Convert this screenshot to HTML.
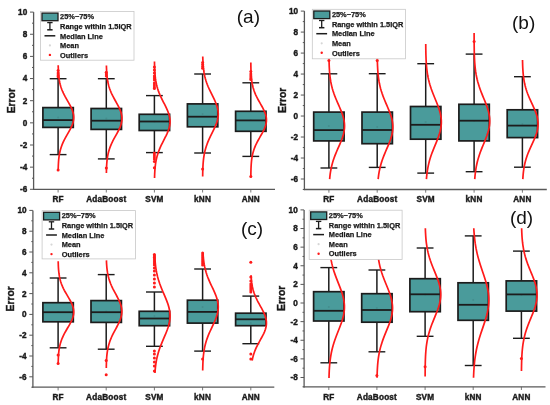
<!DOCTYPE html>
<html><head><meta charset="utf-8"><style>
html,body{margin:0;padding:0;background:#fff;width:550px;height:405px;overflow:hidden}
svg{display:block;will-change:transform}
text{font-family:"Liberation Sans",sans-serif;fill:#1a1a1a}
.tk,.xl,.yl{stroke:#1a1a1a;stroke-width:0.4px}
.lg{stroke:#1a1a1a;stroke-width:0.25px}
.tk{font-size:8.2px;font-weight:bold}
.xl{font-size:8.2px;font-weight:bold;letter-spacing:0.2px}
.yl{font-size:10.3px;font-weight:bold}
.lg{font-size:7.4px;font-weight:bold}
.tag{font-size:19px;fill:#111}
</style></head><body>
<svg width="550" height="405" viewBox="0 0 550 405">
<rect width="550" height="405" fill="#fff"/>
<line x1="58.1" y1="78.7" x2="58.1" y2="107.4" stroke="#1c1c1c" stroke-width="1.5"/>
<line x1="58.1" y1="127.6" x2="58.1" y2="154.6" stroke="#1c1c1c" stroke-width="1.5"/>
<line x1="49.7" y1="78.7" x2="66.5" y2="78.7" stroke="#1c1c1c" stroke-width="1.4"/>
<line x1="49.7" y1="154.6" x2="66.5" y2="154.6" stroke="#1c1c1c" stroke-width="1.4"/>
<rect x="42.9" y="107.6" width="30.4" height="19.8" fill="#4a9b9b" stroke="#1c1c1c" stroke-width="1.7"/>
<circle cx="58.1" cy="117.5" r="1" fill="#468e8e"/>
<line x1="42.9" y1="120.1" x2="73.3" y2="120.1" stroke="#1c1c1c" stroke-width="1.8"/>
<line x1="106.3" y1="78.7" x2="106.3" y2="108.3" stroke="#1c1c1c" stroke-width="1.5"/>
<line x1="106.3" y1="129.6" x2="106.3" y2="158.9" stroke="#1c1c1c" stroke-width="1.5"/>
<line x1="97.9" y1="78.7" x2="114.7" y2="78.7" stroke="#1c1c1c" stroke-width="1.4"/>
<line x1="97.9" y1="158.9" x2="114.7" y2="158.9" stroke="#1c1c1c" stroke-width="1.4"/>
<rect x="91.1" y="108.5" width="30.4" height="20.9" fill="#4a9b9b" stroke="#1c1c1c" stroke-width="1.7"/>
<circle cx="106.3" cy="118.5" r="1" fill="#468e8e"/>
<line x1="91.1" y1="120.7" x2="121.5" y2="120.7" stroke="#1c1c1c" stroke-width="1.8"/>
<line x1="154.4" y1="95.6" x2="154.4" y2="114.1" stroke="#1c1c1c" stroke-width="1.5"/>
<line x1="154.4" y1="130.7" x2="154.4" y2="152.6" stroke="#1c1c1c" stroke-width="1.5"/>
<line x1="146" y1="95.6" x2="162.8" y2="95.6" stroke="#1c1c1c" stroke-width="1.4"/>
<line x1="146" y1="152.6" x2="162.8" y2="152.6" stroke="#1c1c1c" stroke-width="1.4"/>
<rect x="139.2" y="114.3" width="30.4" height="16.2" fill="#4a9b9b" stroke="#1c1c1c" stroke-width="1.7"/>
<circle cx="154.4" cy="121.5" r="1" fill="#468e8e"/>
<line x1="139.2" y1="121.5" x2="169.6" y2="121.5" stroke="#1c1c1c" stroke-width="1.8"/>
<line x1="202.6" y1="74" x2="202.6" y2="103.7" stroke="#1c1c1c" stroke-width="1.5"/>
<line x1="202.6" y1="127" x2="202.6" y2="153" stroke="#1c1c1c" stroke-width="1.5"/>
<line x1="194.2" y1="74" x2="211" y2="74" stroke="#1c1c1c" stroke-width="1.4"/>
<line x1="194.2" y1="153" x2="211" y2="153" stroke="#1c1c1c" stroke-width="1.4"/>
<rect x="187.4" y="103.9" width="30.4" height="22.9" fill="#4a9b9b" stroke="#1c1c1c" stroke-width="1.7"/>
<circle cx="202.6" cy="114" r="1" fill="#468e8e"/>
<line x1="187.4" y1="116.7" x2="217.8" y2="116.7" stroke="#1c1c1c" stroke-width="1.8"/>
<line x1="250.8" y1="82.8" x2="250.8" y2="111.1" stroke="#1c1c1c" stroke-width="1.5"/>
<line x1="250.8" y1="131.5" x2="250.8" y2="156.4" stroke="#1c1c1c" stroke-width="1.5"/>
<line x1="242.4" y1="82.8" x2="259.2" y2="82.8" stroke="#1c1c1c" stroke-width="1.4"/>
<line x1="242.4" y1="156.4" x2="259.2" y2="156.4" stroke="#1c1c1c" stroke-width="1.4"/>
<rect x="235.6" y="111.3" width="30.4" height="20" fill="#4a9b9b" stroke="#1c1c1c" stroke-width="1.7"/>
<circle cx="250.8" cy="120" r="1" fill="#468e8e"/>
<line x1="235.6" y1="120.4" x2="266" y2="120.4" stroke="#1c1c1c" stroke-width="1.8"/>
<polyline points="58.2,65.2 58.24,66.95 58.3,68.7 58.37,70.45 58.46,72.2 58.58,73.95 58.73,75.7 58.92,77.45 59.16,79.2 59.45,80.95 59.79,82.7 60.21,84.45 60.69,86.2 61.25,87.95 61.89,89.7 62.6,91.45 63.39,93.2 64.25,94.95 65.17,96.7 66.14,98.45 67.13,100.2 68.14,101.95 69.13,103.7 70.09,105.45 70.98,107.2 71.78,108.95 72.48,110.7 73.03,112.45 73.44,114.2 73.68,115.95 73.75,117.7 73.64,119.45 73.36,121.2 72.92,122.95 72.33,124.7 71.61,126.45 70.78,128.2 69.87,129.95 68.91,131.7 67.91,133.45 66.9,135.2 65.91,136.95 64.96,138.7 64.05,140.45 63.2,142.2 62.43,143.95 61.73,145.7 61.11,147.45 60.57,149.2 60.1,150.95 59.71,152.7 59.38,154.45 59.1,156.2 58.88,157.95 58.69,159.7 58.55,161.45 58.44,163.2 58.35,164.95 58.28,166.7 58.23,168.45 58.2,170.2" fill="none" stroke="#ff1a1a" stroke-width="1.7"/>
<circle cx="58.1" cy="70.5" r="1.5" fill="#ff1a1a"/>
<circle cx="58.1" cy="73" r="1.5" fill="#ff1a1a"/>
<circle cx="58.1" cy="75" r="1.5" fill="#ff1a1a"/>
<circle cx="58.1" cy="76.8" r="1.5" fill="#ff1a1a"/>
<circle cx="58.1" cy="170" r="1.5" fill="#ff1a1a"/>
<polyline points="106.42,65.4 106.46,67.19 106.53,68.99 106.6,70.78 106.71,72.57 106.84,74.37 107,76.16 107.21,77.95 107.46,79.75 107.77,81.54 108.14,83.33 108.58,85.13 109.09,86.92 109.67,88.71 110.33,90.51 111.07,92.3 111.88,94.09 112.76,95.89 113.69,97.68 114.67,99.47 115.66,101.27 116.66,103.06 117.64,104.85 118.57,106.65 119.44,108.44 120.2,110.23 120.86,112.03 121.37,113.82 121.73,115.61 121.92,117.41 121.94,119.2 121.78,120.99 121.46,122.79 120.98,124.58 120.36,126.37 119.61,128.17 118.77,129.96 117.85,131.75 116.88,133.55 115.88,135.34 114.88,137.13 113.9,138.93 112.96,140.72 112.07,142.51 111.24,144.31 110.49,146.1 109.81,147.89 109.21,149.69 108.68,151.48 108.23,153.27 107.85,155.07 107.53,156.86 107.26,158.65 107.05,160.45 106.87,162.24 106.73,164.03 106.62,165.83 106.54,167.62 106.48,169.41 106.43,171.21 106.39,173" fill="none" stroke="#ff1a1a" stroke-width="1.7"/>
<circle cx="106.3" cy="72.3" r="1.5" fill="#ff1a1a"/>
<circle cx="106.3" cy="74" r="1.5" fill="#ff1a1a"/>
<circle cx="106.3" cy="75.9" r="1.5" fill="#ff1a1a"/>
<circle cx="106.3" cy="168" r="1.5" fill="#ff1a1a"/>
<polyline points="154.48,61.5 154.51,63.44 154.56,65.38 154.61,67.33 154.69,69.27 154.79,71.21 154.91,73.15 155.07,75.09 155.27,77.03 155.51,78.97 155.81,80.92 156.17,82.86 156.59,84.8 157.08,86.74 157.65,88.68 158.29,90.62 159.01,92.57 159.8,94.51 160.66,96.45 161.57,98.39 162.53,100.33 163.52,102.28 164.52,104.22 165.5,106.16 166.44,108.1 167.32,110.04 168.11,111.98 168.79,113.92 169.34,115.87 169.74,117.81 169.98,119.75 170.05,121.69 169.95,123.63 169.67,125.58 169.24,127.52 168.67,129.46 167.96,131.4 167.15,133.34 166.26,135.28 165.3,137.22 164.32,139.17 163.32,141.11 162.34,143.05 161.39,144.99 160.48,146.93 159.64,148.88 158.86,150.82 158.15,152.76 157.53,154.7 156.98,156.64 156.5,158.58 156.09,160.53 155.75,162.47 155.46,164.41 155.23,166.35 155.04,168.29 154.89,170.23 154.77,172.18 154.67,174.12 154.6,176.06 154.55,178" fill="none" stroke="#ff1a1a" stroke-width="1.7"/>
<circle cx="154.4" cy="67" r="1.5" fill="#ff1a1a"/>
<circle cx="154.4" cy="70" r="1.5" fill="#ff1a1a"/>
<circle cx="154.4" cy="73" r="1.5" fill="#ff1a1a"/>
<circle cx="154.4" cy="76" r="1.5" fill="#ff1a1a"/>
<circle cx="154.4" cy="78" r="1.5" fill="#ff1a1a"/>
<circle cx="154.4" cy="80" r="1.5" fill="#ff1a1a"/>
<circle cx="154.4" cy="83" r="1.5" fill="#ff1a1a"/>
<circle cx="154.4" cy="85" r="1.5" fill="#ff1a1a"/>
<circle cx="154.4" cy="87" r="1.5" fill="#ff1a1a"/>
<circle cx="154.4" cy="88.6" r="1.5" fill="#ff1a1a"/>
<circle cx="154.4" cy="153" r="1.5" fill="#ff1a1a"/>
<circle cx="154.4" cy="155" r="1.5" fill="#ff1a1a"/>
<circle cx="154.4" cy="157" r="1.5" fill="#ff1a1a"/>
<circle cx="154.4" cy="159" r="1.5" fill="#ff1a1a"/>
<circle cx="154.4" cy="161.6" r="1.5" fill="#ff1a1a"/>
<circle cx="154.4" cy="167.7" r="1.5" fill="#ff1a1a"/>
<polyline points="202.76,56.5 202.82,58.5 202.9,60.5 203,62.5 203.13,64.49 203.29,66.49 203.49,68.49 203.74,70.49 204.04,72.49 204.4,74.48 204.83,76.48 205.33,78.48 205.9,80.48 206.55,82.48 207.28,84.48 208.08,86.47 208.95,88.47 209.87,90.47 210.84,92.47 211.83,94.47 212.82,96.47 213.8,98.47 214.74,100.46 215.61,102.46 216.4,104.46 217.06,106.46 217.6,108.46 217.98,110.46 218.2,112.45 218.25,114.45 218.12,116.45 217.83,118.45 217.37,120.45 216.78,122.45 216.06,124.44 215.23,126.44 214.32,128.44 213.36,130.44 212.37,132.44 211.38,134.44 210.39,136.43 209.45,138.43 208.55,140.43 207.71,142.43 206.94,144.43 206.25,146.43 205.63,148.42 205.09,150.42 204.63,152.42 204.23,154.42 203.9,156.42 203.62,158.42 203.39,160.41 203.21,162.41 203.06,164.41 202.95,166.41 202.86,168.41 202.79,170.41 202.74,172.4 202.7,174.4 202.67,176.4" fill="none" stroke="#ff1a1a" stroke-width="1.7"/>
<circle cx="202.6" cy="62.5" r="1.5" fill="#ff1a1a"/>
<circle cx="202.6" cy="64.5" r="1.5" fill="#ff1a1a"/>
<circle cx="202.6" cy="66.5" r="1.5" fill="#ff1a1a"/>
<circle cx="202.6" cy="68.2" r="1.5" fill="#ff1a1a"/>
<circle cx="202.6" cy="169.1" r="1.5" fill="#ff1a1a"/>
<polyline points="250.84,62.5 250.85,64.4 250.88,66.3 250.91,68.2 250.96,70.11 251.03,72.01 251.12,73.91 251.23,75.81 251.39,77.71 251.58,79.61 251.83,81.52 252.14,83.42 252.52,85.32 252.98,87.22 253.52,89.12 254.15,91.03 254.87,92.93 255.69,94.83 256.59,96.73 257.57,98.63 258.6,100.53 259.68,102.44 260.77,104.34 261.85,106.24 262.89,108.14 263.84,110.04 264.69,111.94 265.4,113.84 265.94,115.75 266.29,117.65 266.44,119.55 266.39,121.45 266.13,123.35 265.68,125.25 265.05,127.16 264.26,129.06 263.35,130.96 262.35,132.86 261.29,134.76 260.2,136.66 259.11,138.57 258.05,140.47 257.04,142.37 256.1,144.27 255.25,146.17 254.48,148.07 253.8,149.98 253.22,151.88 252.72,153.78 252.31,155.68 251.97,157.58 251.69,159.48 251.47,161.39 251.3,163.29 251.17,165.19 251.07,167.09 250.99,168.99 250.93,170.89 250.89,172.8 250.86,174.7 250.84,176.6" fill="none" stroke="#ff1a1a" stroke-width="1.7"/>
<circle cx="250.8" cy="71.6" r="1.5" fill="#ff1a1a"/>
<circle cx="250.8" cy="74" r="1.5" fill="#ff1a1a"/>
<circle cx="250.8" cy="76" r="1.5" fill="#ff1a1a"/>
<circle cx="250.8" cy="78" r="1.5" fill="#ff1a1a"/>
<circle cx="250.8" cy="79.5" r="1.5" fill="#ff1a1a"/>
<circle cx="250.8" cy="176.4" r="1.5" fill="#ff1a1a"/>
<line x1="33.6" y1="12.1" x2="33.6" y2="189.9" stroke="#585858" stroke-width="1.3"/>
<line x1="33" y1="189.3" x2="275" y2="189.3" stroke="#585858" stroke-width="1.3"/>
<line x1="30" y1="189.3" x2="33.6" y2="189.3" stroke="#585858" stroke-width="1"/>
<line x1="32" y1="178.23" x2="33.6" y2="178.23" stroke="#585858" stroke-width="1"/>
<line x1="30" y1="167.15" x2="33.6" y2="167.15" stroke="#585858" stroke-width="1"/>
<line x1="32" y1="156.08" x2="33.6" y2="156.08" stroke="#585858" stroke-width="1"/>
<line x1="30" y1="145" x2="33.6" y2="145" stroke="#585858" stroke-width="1"/>
<line x1="32" y1="133.93" x2="33.6" y2="133.93" stroke="#585858" stroke-width="1"/>
<line x1="30" y1="122.85" x2="33.6" y2="122.85" stroke="#585858" stroke-width="1"/>
<line x1="32" y1="111.78" x2="33.6" y2="111.78" stroke="#585858" stroke-width="1"/>
<line x1="30" y1="100.7" x2="33.6" y2="100.7" stroke="#585858" stroke-width="1"/>
<line x1="32" y1="89.62" x2="33.6" y2="89.62" stroke="#585858" stroke-width="1"/>
<line x1="30" y1="78.55" x2="33.6" y2="78.55" stroke="#585858" stroke-width="1"/>
<line x1="32" y1="67.48" x2="33.6" y2="67.48" stroke="#585858" stroke-width="1"/>
<line x1="30" y1="56.4" x2="33.6" y2="56.4" stroke="#585858" stroke-width="1"/>
<line x1="32" y1="45.33" x2="33.6" y2="45.33" stroke="#585858" stroke-width="1"/>
<line x1="30" y1="34.25" x2="33.6" y2="34.25" stroke="#585858" stroke-width="1"/>
<line x1="32" y1="23.18" x2="33.6" y2="23.18" stroke="#585858" stroke-width="1"/>
<line x1="30" y1="12.1" x2="33.6" y2="12.1" stroke="#585858" stroke-width="1"/>
<text x="27.2" y="15" text-anchor="end" class="tk">10</text>
<text x="27.2" y="37.15" text-anchor="end" class="tk">8</text>
<text x="27.2" y="59.3" text-anchor="end" class="tk">6</text>
<text x="27.2" y="81.45" text-anchor="end" class="tk">4</text>
<text x="27.2" y="103.6" text-anchor="end" class="tk">2</text>
<text x="27.2" y="125.75" text-anchor="end" class="tk">0</text>
<text x="27.2" y="147.9" text-anchor="end" class="tk">-2</text>
<text x="27.2" y="170.05" text-anchor="end" class="tk">-4</text>
<text x="27.2" y="192.2" text-anchor="end" class="tk">-6</text>
<line x1="58.1" y1="189.3" x2="58.1" y2="192.5" stroke="#585858" stroke-width="0.8"/>
<text x="58.1" y="202" text-anchor="middle" class="xl">RF</text>
<line x1="106.3" y1="189.3" x2="106.3" y2="192.5" stroke="#585858" stroke-width="0.8"/>
<text x="106.3" y="202" text-anchor="middle" class="xl">AdaBoost</text>
<line x1="154.4" y1="189.3" x2="154.4" y2="192.5" stroke="#585858" stroke-width="0.8"/>
<text x="154.4" y="202" text-anchor="middle" class="xl">SVM</text>
<line x1="202.6" y1="189.3" x2="202.6" y2="192.5" stroke="#585858" stroke-width="0.8"/>
<text x="202.6" y="202" text-anchor="middle" class="xl">kNN</text>
<line x1="250.8" y1="189.3" x2="250.8" y2="192.5" stroke="#585858" stroke-width="0.8"/>
<text x="250.8" y="202" text-anchor="middle" class="xl">ANN</text>
<text transform="translate(14.9,100.7) rotate(-90)" text-anchor="middle" class="yl">Error</text>
<rect x="40.5" y="11.4" width="93.5" height="48.8" fill="#ffffff" stroke="#c8c8c8" stroke-width="0.8"/>
<rect x="42" y="13.1" width="16.0" height="7.6" fill="#4a9b9b" stroke="#1c1c1c" stroke-width="1.3"/>
<text x="60.1" y="19.2" class="lg">25%~75%</text>
<text x="60.1" y="28.9" class="lg">Range within 1.5IQR</text>
<text x="60.1" y="38.5" class="lg">Median Line</text>
<text x="60.1" y="48.1" class="lg">Mean</text>
<text x="60.1" y="57.6" class="lg">Outliers</text>
<line x1="49.9" y1="22.6" x2="49.9" y2="29.8" stroke="#1c1c1c" stroke-width="1.3"/>
<line x1="47.2" y1="22.6" x2="52.6" y2="22.6" stroke="#1c1c1c" stroke-width="1.3"/>
<line x1="47.2" y1="29.8" x2="52.6" y2="29.8" stroke="#1c1c1c" stroke-width="1.5"/>
<line x1="44.5" y1="35.8" x2="55.3" y2="35.8" stroke="#1c1c1c" stroke-width="1.5"/>
<circle cx="49.9" cy="45.4" r="1.1" fill="#d6d6d6"/>
<circle cx="49.9" cy="54.9" r="1.2" fill="#ff1a1a"/>
<text x="236.8" y="22.9" class="tag">(a)</text>
<line x1="328.9" y1="73.8" x2="328.9" y2="111.9" stroke="#1c1c1c" stroke-width="1.5"/>
<line x1="328.9" y1="141.1" x2="328.9" y2="168" stroke="#1c1c1c" stroke-width="1.5"/>
<line x1="320.5" y1="73.8" x2="337.3" y2="73.8" stroke="#1c1c1c" stroke-width="1.4"/>
<line x1="320.5" y1="168" x2="337.3" y2="168" stroke="#1c1c1c" stroke-width="1.4"/>
<rect x="313.7" y="112.1" width="30.4" height="28.8" fill="#4a9b9b" stroke="#1c1c1c" stroke-width="1.7"/>
<circle cx="328.9" cy="126" r="1" fill="#468e8e"/>
<line x1="313.7" y1="130.1" x2="344.1" y2="130.1" stroke="#1c1c1c" stroke-width="1.8"/>
<line x1="377.2" y1="73.7" x2="377.2" y2="111.9" stroke="#1c1c1c" stroke-width="1.5"/>
<line x1="377.2" y1="143.9" x2="377.2" y2="167.4" stroke="#1c1c1c" stroke-width="1.5"/>
<line x1="368.8" y1="73.7" x2="385.6" y2="73.7" stroke="#1c1c1c" stroke-width="1.4"/>
<line x1="368.8" y1="167.4" x2="385.6" y2="167.4" stroke="#1c1c1c" stroke-width="1.4"/>
<rect x="362" y="112.1" width="30.4" height="31.6" fill="#4a9b9b" stroke="#1c1c1c" stroke-width="1.7"/>
<circle cx="377.2" cy="127" r="1" fill="#468e8e"/>
<line x1="362" y1="130" x2="392.4" y2="130" stroke="#1c1c1c" stroke-width="1.8"/>
<line x1="425.7" y1="63.7" x2="425.7" y2="106.3" stroke="#1c1c1c" stroke-width="1.5"/>
<line x1="425.7" y1="139.4" x2="425.7" y2="173.1" stroke="#1c1c1c" stroke-width="1.5"/>
<line x1="417.3" y1="63.7" x2="434.1" y2="63.7" stroke="#1c1c1c" stroke-width="1.4"/>
<line x1="417.3" y1="173.1" x2="434.1" y2="173.1" stroke="#1c1c1c" stroke-width="1.4"/>
<rect x="410.5" y="106.5" width="30.4" height="32.7" fill="#4a9b9b" stroke="#1c1c1c" stroke-width="1.7"/>
<circle cx="425.7" cy="122" r="1" fill="#468e8e"/>
<line x1="410.5" y1="124.8" x2="440.9" y2="124.8" stroke="#1c1c1c" stroke-width="1.8"/>
<line x1="474.1" y1="54.1" x2="474.1" y2="104.1" stroke="#1c1c1c" stroke-width="1.5"/>
<line x1="474.1" y1="141.1" x2="474.1" y2="171.7" stroke="#1c1c1c" stroke-width="1.5"/>
<line x1="465.7" y1="54.1" x2="482.5" y2="54.1" stroke="#1c1c1c" stroke-width="1.4"/>
<line x1="465.7" y1="171.7" x2="482.5" y2="171.7" stroke="#1c1c1c" stroke-width="1.4"/>
<rect x="458.9" y="104.3" width="30.4" height="36.6" fill="#4a9b9b" stroke="#1c1c1c" stroke-width="1.7"/>
<circle cx="474.1" cy="121" r="1" fill="#468e8e"/>
<line x1="458.9" y1="120.7" x2="489.3" y2="120.7" stroke="#1c1c1c" stroke-width="1.8"/>
<line x1="522.4" y1="76.7" x2="522.4" y2="109.6" stroke="#1c1c1c" stroke-width="1.5"/>
<line x1="522.4" y1="137.8" x2="522.4" y2="167.2" stroke="#1c1c1c" stroke-width="1.5"/>
<line x1="514" y1="76.7" x2="530.8" y2="76.7" stroke="#1c1c1c" stroke-width="1.4"/>
<line x1="514" y1="167.2" x2="530.8" y2="167.2" stroke="#1c1c1c" stroke-width="1.4"/>
<rect x="507.2" y="109.8" width="30.4" height="27.8" fill="#4a9b9b" stroke="#1c1c1c" stroke-width="1.7"/>
<circle cx="522.4" cy="124" r="1" fill="#468e8e"/>
<line x1="507.2" y1="125.6" x2="537.6" y2="125.6" stroke="#1c1c1c" stroke-width="1.8"/>
<polyline points="328.91,40 328.91,42.32 328.91,44.64 328.92,46.95 328.93,49.27 328.94,51.59 328.96,53.91 328.98,56.23 329.01,58.55 329.06,60.86 329.12,63.18 329.2,65.5 329.3,67.82 329.44,70.14 329.6,72.46 329.82,74.78 330.08,77.09 330.4,79.41 330.78,81.73 331.23,84.05 331.76,86.37 332.37,88.69 333.06,91 333.83,93.32 334.67,95.64 335.59,97.96 336.55,100.28 337.55,102.59 338.57,104.91 339.59,107.23 340.58,109.55 341.51,111.87 342.36,114.19 343.1,116.51 343.7,118.82 344.16,121.14 344.44,123.46 344.55,125.78 344.48,128.1 344.22,130.41 343.8,132.73 343.22,135.05 342.51,137.37 341.68,139.69 340.76,142.01 339.78,144.32 338.77,146.64 337.75,148.96 336.74,151.28 335.77,153.6 334.84,155.92 333.99,158.23 333.2,160.55 332.5,162.87 331.87,165.19 331.33,167.51 330.86,169.83 330.46,172.15 330.13,174.46 329.86,176.78 329.64,179.1" fill="none" stroke="#ff1a1a" stroke-width="1.7"/>
<circle cx="328.9" cy="60.5" r="1.5" fill="#ff1a1a"/>
<polyline points="377.21,40 377.21,42.32 377.21,44.64 377.22,46.95 377.23,49.27 377.24,51.59 377.26,53.91 377.29,56.23 377.32,58.55 377.37,60.86 377.43,63.18 377.51,65.5 377.62,67.82 377.75,70.14 377.92,72.46 378.14,74.78 378.39,77.09 378.71,79.41 379.08,81.73 379.53,84.05 380.04,86.37 380.63,88.69 381.3,91 382.05,93.32 382.87,95.64 383.75,97.96 384.68,100.28 385.66,102.59 386.65,104.91 387.65,107.23 388.63,109.55 389.55,111.87 390.41,114.19 391.17,116.51 391.81,118.82 392.3,121.14 392.65,123.46 392.83,125.78 392.83,128.1 392.66,130.41 392.33,132.73 391.84,135.05 391.2,137.37 390.45,139.69 389.6,142.01 388.68,144.32 387.71,146.64 386.71,148.96 385.71,151.28 384.74,153.6 383.8,155.92 382.91,158.23 382.09,160.55 381.34,162.87 380.67,165.19 380.07,167.51 379.55,169.83 379.11,172.15 378.73,174.46 378.41,176.78 378.15,179.1" fill="none" stroke="#ff1a1a" stroke-width="1.7"/>
<circle cx="377.2" cy="60.5" r="1.5" fill="#ff1a1a"/>
<polyline points="425.75,44 425.77,46.25 425.79,48.5 425.83,50.75 425.87,53.01 425.93,55.26 426.01,57.51 426.1,59.76 426.22,62.01 426.37,64.27 426.55,66.52 426.77,68.77 427.04,71.02 427.36,73.27 427.73,75.52 428.16,77.78 428.66,80.03 429.22,82.28 429.85,84.53 430.55,86.78 431.3,89.03 432.12,91.28 432.98,93.54 433.88,95.79 434.8,98.04 435.72,100.29 436.64,102.54 437.53,104.79 438.37,107.05 439.14,109.3 439.82,111.55 440.39,113.8 440.84,116.05 441.15,118.31 441.32,120.56 441.34,122.81 441.21,125.06 440.94,127.31 440.53,129.56 439.99,131.81 439.34,134.07 438.59,136.32 437.77,138.57 436.9,140.82 435.99,143.07 435.06,145.32 434.13,147.58 433.23,149.83 432.35,152.08 431.53,154.33 430.75,156.58 430.04,158.83 429.39,161.09 428.81,163.34 428.3,165.59 427.85,167.84 427.46,170.09 427.13,172.34 426.85,174.6 426.61,176.85 426.42,179.1" fill="none" stroke="#ff1a1a" stroke-width="1.7"/>
<polyline points="474.11,33 474.12,35.44 474.12,37.87 474.13,40.3 474.15,42.74 474.17,45.17 474.2,47.61 474.23,50.05 474.29,52.48 474.35,54.91 474.44,57.35 474.55,59.78 474.7,62.22 474.88,64.66 475.1,67.09 475.38,69.53 475.71,71.96 476.11,74.39 476.58,76.83 477.12,79.27 477.74,81.7 478.43,84.13 479.2,86.57 480.05,89 480.95,91.44 481.91,93.88 482.9,96.31 483.9,98.74 484.9,101.18 485.86,103.61 486.77,106.05 487.6,108.48 488.32,110.92 488.91,113.36 489.35,115.79 489.64,118.22 489.75,120.66 489.69,123.09 489.45,125.53 489.05,127.96 488.5,130.4 487.81,132.83 487.01,135.27 486.12,137.7 485.17,140.14 484.18,142.57 483.18,145.01 482.18,147.44 481.21,149.88 480.29,152.31 479.43,154.75 478.64,157.19 477.92,159.62 477.28,162.05 476.72,164.49 476.23,166.93 475.82,169.36 475.47,171.79 475.18,174.23 474.94,176.66 474.74,179.1" fill="none" stroke="#ff1a1a" stroke-width="1.7"/>
<circle cx="474.1" cy="41.5" r="1.5" fill="#ff1a1a"/>
<polyline points="522.52,60 522.56,61.98 522.62,63.97 522.68,65.95 522.77,67.94 522.88,69.92 523.02,71.91 523.19,73.89 523.4,75.88 523.64,77.86 523.94,79.85 524.29,81.83 524.69,83.82 525.16,85.81 525.69,87.79 526.28,89.78 526.94,91.76 527.67,93.75 528.45,95.73 529.28,97.72 530.15,99.7 531.05,101.69 531.97,103.67 532.89,105.66 533.78,107.64 534.64,109.62 535.44,111.61 536.16,113.59 536.78,115.58 537.3,117.56 537.69,119.55 537.94,121.53 538.05,123.52 538.01,125.5 537.82,127.49 537.5,129.47 537.05,131.46 536.47,133.44 535.8,135.43 535.03,137.41 534.2,139.4 533.32,141.38 532.41,143.37 531.5,145.36 530.59,147.34 529.7,149.32 528.84,151.31 528.04,153.3 527.29,155.28 526.6,157.26 525.97,159.25 525.41,161.23 524.91,163.22 524.48,165.2 524.1,167.19 523.78,169.18 523.51,171.16 523.28,173.14 523.1,175.13 522.95,177.12 522.82,179.1" fill="none" stroke="#ff1a1a" stroke-width="1.7"/>
<line x1="304.4" y1="11.1" x2="304.4" y2="190.1" stroke="#585858" stroke-width="1.3"/>
<line x1="303.8" y1="189.5" x2="546.8" y2="189.5" stroke="#585858" stroke-width="1.3"/>
<line x1="302.8" y1="189.5" x2="304.4" y2="189.5" stroke="#585858" stroke-width="1"/>
<line x1="300.8" y1="179.01" x2="304.4" y2="179.01" stroke="#585858" stroke-width="1"/>
<line x1="302.8" y1="168.51" x2="304.4" y2="168.51" stroke="#585858" stroke-width="1"/>
<line x1="300.8" y1="158.02" x2="304.4" y2="158.02" stroke="#585858" stroke-width="1"/>
<line x1="302.8" y1="147.52" x2="304.4" y2="147.52" stroke="#585858" stroke-width="1"/>
<line x1="300.8" y1="137.03" x2="304.4" y2="137.03" stroke="#585858" stroke-width="1"/>
<line x1="302.8" y1="126.54" x2="304.4" y2="126.54" stroke="#585858" stroke-width="1"/>
<line x1="300.8" y1="116.04" x2="304.4" y2="116.04" stroke="#585858" stroke-width="1"/>
<line x1="302.8" y1="105.55" x2="304.4" y2="105.55" stroke="#585858" stroke-width="1"/>
<line x1="300.8" y1="95.05" x2="304.4" y2="95.05" stroke="#585858" stroke-width="1"/>
<line x1="302.8" y1="84.56" x2="304.4" y2="84.56" stroke="#585858" stroke-width="1"/>
<line x1="300.8" y1="74.06" x2="304.4" y2="74.06" stroke="#585858" stroke-width="1"/>
<line x1="302.8" y1="63.57" x2="304.4" y2="63.57" stroke="#585858" stroke-width="1"/>
<line x1="300.8" y1="53.08" x2="304.4" y2="53.08" stroke="#585858" stroke-width="1"/>
<line x1="302.8" y1="42.58" x2="304.4" y2="42.58" stroke="#585858" stroke-width="1"/>
<line x1="300.8" y1="32.09" x2="304.4" y2="32.09" stroke="#585858" stroke-width="1"/>
<line x1="302.8" y1="21.59" x2="304.4" y2="21.59" stroke="#585858" stroke-width="1"/>
<line x1="300.8" y1="11.1" x2="304.4" y2="11.1" stroke="#585858" stroke-width="1"/>
<text x="298" y="14" text-anchor="end" class="tk">10</text>
<text x="298" y="34.99" text-anchor="end" class="tk">8</text>
<text x="298" y="55.98" text-anchor="end" class="tk">6</text>
<text x="298" y="76.96" text-anchor="end" class="tk">4</text>
<text x="298" y="97.95" text-anchor="end" class="tk">2</text>
<text x="298" y="118.94" text-anchor="end" class="tk">0</text>
<text x="298" y="139.93" text-anchor="end" class="tk">-2</text>
<text x="298" y="160.92" text-anchor="end" class="tk">-4</text>
<text x="298" y="181.91" text-anchor="end" class="tk">-6</text>
<line x1="328.9" y1="189.5" x2="328.9" y2="192.7" stroke="#585858" stroke-width="0.8"/>
<text x="328.9" y="202.2" text-anchor="middle" class="xl">RF</text>
<line x1="377.2" y1="189.5" x2="377.2" y2="192.7" stroke="#585858" stroke-width="0.8"/>
<text x="377.2" y="202.2" text-anchor="middle" class="xl">AdaBoost</text>
<line x1="425.7" y1="189.5" x2="425.7" y2="192.7" stroke="#585858" stroke-width="0.8"/>
<text x="425.7" y="202.2" text-anchor="middle" class="xl">SVM</text>
<line x1="474.1" y1="189.5" x2="474.1" y2="192.7" stroke="#585858" stroke-width="0.8"/>
<text x="474.1" y="202.2" text-anchor="middle" class="xl">kNN</text>
<line x1="522.4" y1="189.5" x2="522.4" y2="192.7" stroke="#585858" stroke-width="0.8"/>
<text x="522.4" y="202.2" text-anchor="middle" class="xl">ANN</text>
<text transform="translate(285.7,100.3) rotate(-90)" text-anchor="middle" class="yl">Error</text>
<rect x="312.3" y="9.3" width="93.3" height="49.5" fill="#ffffff" stroke="#c8c8c8" stroke-width="0.8"/>
<rect x="313.8" y="11" width="16.0" height="7.6" fill="#4a9b9b" stroke="#1c1c1c" stroke-width="1.3"/>
<text x="331.9" y="17.1" class="lg">25%~75%</text>
<text x="331.9" y="26.8" class="lg">Range within 1.5IQR</text>
<text x="331.9" y="36.4" class="lg">Median Line</text>
<text x="331.9" y="46" class="lg">Mean</text>
<text x="331.9" y="55.5" class="lg">Outliers</text>
<line x1="321.7" y1="20.5" x2="321.7" y2="27.7" stroke="#1c1c1c" stroke-width="1.3"/>
<line x1="319" y1="20.5" x2="324.4" y2="20.5" stroke="#1c1c1c" stroke-width="1.3"/>
<line x1="319" y1="27.7" x2="324.4" y2="27.7" stroke="#1c1c1c" stroke-width="1.5"/>
<line x1="316.3" y1="33.7" x2="327.1" y2="33.7" stroke="#1c1c1c" stroke-width="1.5"/>
<circle cx="321.7" cy="43.3" r="1.1" fill="#d6d6d6"/>
<circle cx="321.7" cy="52.8" r="1.2" fill="#ff1a1a"/>
<text x="512" y="28.7" class="tag">(b)</text>
<line x1="58.1" y1="278" x2="58.1" y2="302.5" stroke="#1c1c1c" stroke-width="1.5"/>
<line x1="58.1" y1="322" x2="58.1" y2="347.8" stroke="#1c1c1c" stroke-width="1.5"/>
<line x1="49.7" y1="278" x2="66.5" y2="278" stroke="#1c1c1c" stroke-width="1.4"/>
<line x1="49.7" y1="347.8" x2="66.5" y2="347.8" stroke="#1c1c1c" stroke-width="1.4"/>
<rect x="42.9" y="302.7" width="30.4" height="19.1" fill="#4a9b9b" stroke="#1c1c1c" stroke-width="1.7"/>
<circle cx="58.1" cy="312" r="1" fill="#468e8e"/>
<line x1="42.9" y1="312.2" x2="73.3" y2="312.2" stroke="#1c1c1c" stroke-width="1.8"/>
<line x1="106.2" y1="274.6" x2="106.2" y2="300.4" stroke="#1c1c1c" stroke-width="1.5"/>
<line x1="106.2" y1="322.6" x2="106.2" y2="349.2" stroke="#1c1c1c" stroke-width="1.5"/>
<line x1="97.8" y1="274.6" x2="114.6" y2="274.6" stroke="#1c1c1c" stroke-width="1.4"/>
<line x1="97.8" y1="349.2" x2="114.6" y2="349.2" stroke="#1c1c1c" stroke-width="1.4"/>
<rect x="91" y="300.6" width="30.4" height="21.8" fill="#4a9b9b" stroke="#1c1c1c" stroke-width="1.7"/>
<circle cx="106.2" cy="311.5" r="1" fill="#468e8e"/>
<line x1="91" y1="312.2" x2="121.4" y2="312.2" stroke="#1c1c1c" stroke-width="1.8"/>
<line x1="154.4" y1="292" x2="154.4" y2="311.1" stroke="#1c1c1c" stroke-width="1.5"/>
<line x1="154.4" y1="325.9" x2="154.4" y2="346.3" stroke="#1c1c1c" stroke-width="1.5"/>
<line x1="146" y1="292" x2="162.8" y2="292" stroke="#1c1c1c" stroke-width="1.4"/>
<line x1="146" y1="346.3" x2="162.8" y2="346.3" stroke="#1c1c1c" stroke-width="1.4"/>
<rect x="139.2" y="311.3" width="30.4" height="14.4" fill="#4a9b9b" stroke="#1c1c1c" stroke-width="1.7"/>
<circle cx="154.4" cy="316" r="1" fill="#468e8e"/>
<line x1="139.2" y1="318.5" x2="169.6" y2="318.5" stroke="#1c1c1c" stroke-width="1.8"/>
<line x1="202.6" y1="269" x2="202.6" y2="300" stroke="#1c1c1c" stroke-width="1.5"/>
<line x1="202.6" y1="323.3" x2="202.6" y2="351.1" stroke="#1c1c1c" stroke-width="1.5"/>
<line x1="194.2" y1="269" x2="211" y2="269" stroke="#1c1c1c" stroke-width="1.4"/>
<line x1="194.2" y1="351.1" x2="211" y2="351.1" stroke="#1c1c1c" stroke-width="1.4"/>
<rect x="187.4" y="300.2" width="30.4" height="22.9" fill="#4a9b9b" stroke="#1c1c1c" stroke-width="1.7"/>
<circle cx="202.6" cy="307" r="1" fill="#468e8e"/>
<line x1="187.4" y1="311.9" x2="217.8" y2="311.9" stroke="#1c1c1c" stroke-width="1.8"/>
<line x1="250.8" y1="296.1" x2="250.8" y2="313" stroke="#1c1c1c" stroke-width="1.5"/>
<line x1="250.8" y1="325.9" x2="250.8" y2="343.7" stroke="#1c1c1c" stroke-width="1.5"/>
<line x1="242.4" y1="296.1" x2="259.2" y2="296.1" stroke="#1c1c1c" stroke-width="1.4"/>
<line x1="242.4" y1="343.7" x2="259.2" y2="343.7" stroke="#1c1c1c" stroke-width="1.4"/>
<rect x="235.6" y="313.2" width="30.4" height="12.5" fill="#4a9b9b" stroke="#1c1c1c" stroke-width="1.7"/>
<circle cx="250.8" cy="323" r="1" fill="#468e8e"/>
<line x1="235.6" y1="319.3" x2="266" y2="319.3" stroke="#1c1c1c" stroke-width="1.8"/>
<polyline points="58.2,261.3 58.24,263 58.3,264.71 58.37,266.42 58.46,268.12 58.58,269.82 58.74,271.53 58.93,273.24 59.17,274.94 59.46,276.65 59.81,278.35 60.23,280.06 60.72,281.76 61.29,283.47 61.94,285.17 62.66,286.88 63.46,288.58 64.33,290.29 65.26,291.99 66.23,293.69 67.24,295.4 68.25,297.11 69.24,298.81 70.2,300.51 71.08,302.22 71.88,303.93 72.56,305.63 73.1,307.34 73.48,309.04 73.7,310.75 73.74,312.45 73.61,314.16 73.3,315.86 72.83,317.56 72.22,319.27 71.47,320.98 70.62,322.68 69.7,324.38 68.72,326.09 67.71,327.8 66.7,329.5 65.71,331.21 64.76,332.91 63.86,334.62 63.03,336.32 62.27,338.03 61.59,339.73 60.98,341.44 60.45,343.14 60,344.85 59.62,346.55 59.3,348.25 59.04,349.96 58.82,351.67 58.65,353.37 58.52,355.08 58.41,356.78 58.33,358.49 58.27,360.19 58.22,361.9 58.19,363.6" fill="none" stroke="#ff1a1a" stroke-width="1.7"/>
<circle cx="58.1" cy="355" r="1.5" fill="#ff1a1a"/>
<circle cx="58.1" cy="363.6" r="1.5" fill="#ff1a1a"/>
<polyline points="106.42,260.4 106.5,262.19 106.59,263.99 106.72,265.78 106.87,267.57 107.06,269.37 107.3,271.16 107.58,272.95 107.92,274.75 108.33,276.54 108.8,278.33 109.34,280.13 109.95,281.92 110.64,283.71 111.39,285.51 112.22,287.3 113.09,289.09 114.02,290.89 114.98,292.68 115.95,294.47 116.91,296.27 117.85,298.06 118.74,299.85 119.56,301.65 120.28,303.44 120.88,305.23 121.35,307.03 121.67,308.82 121.83,310.61 121.83,312.41 121.66,314.2 121.34,315.99 120.87,317.79 120.27,319.58 119.55,321.37 118.73,323.17 117.84,324.96 116.9,326.75 115.94,328.55 114.97,330.34 114.01,332.13 113.08,333.93 112.21,335.72 111.38,337.51 110.63,339.31 109.94,341.1 109.33,342.89 108.79,344.69 108.32,346.48 107.92,348.27 107.58,350.07 107.3,351.86 107.06,353.65 106.87,355.45 106.71,357.24 106.59,359.03 106.49,360.83 106.42,362.62 106.36,364.41 106.32,366.21 106.29,368" fill="none" stroke="#ff1a1a" stroke-width="1.7"/>
<circle cx="106.2" cy="360.6" r="1.5" fill="#ff1a1a"/>
<circle cx="106.2" cy="374.8" r="1.5" fill="#ff1a1a"/>
<polyline points="154.71,254.4 154.8,256.38 154.91,258.35 155.04,260.33 155.2,262.31 155.39,264.28 155.61,266.26 155.88,268.24 156.19,270.21 156.55,272.19 156.97,274.17 157.43,276.14 157.95,278.12 158.53,280.1 159.17,282.07 159.85,284.05 160.59,286.03 161.36,288 162.18,289.98 163.01,291.96 163.86,293.93 164.71,295.91 165.55,297.89 166.36,299.86 167.12,301.84 167.83,303.82 168.45,305.79 168.99,307.77 169.43,309.75 169.76,311.72 169.96,313.7 170.05,315.68 170.01,317.65 169.84,319.63 169.55,321.61 169.15,323.58 168.64,325.56 168.04,327.54 167.36,329.51 166.61,331.49 165.82,333.47 164.99,335.44 164.14,337.42 163.29,339.4 162.45,341.37 161.63,343.35 160.84,345.33 160.09,347.3 159.38,349.28 158.73,351.26 158.14,353.23 157.6,355.21 157.11,357.19 156.68,359.16 156.31,361.14 155.98,363.12 155.7,365.09 155.46,367.07 155.26,369.05 155.09,371.02 154.95,373" fill="none" stroke="#ff1a1a" stroke-width="1.7"/>
<circle cx="154.4" cy="254.5" r="1.5" fill="#ff1a1a"/>
<circle cx="154.4" cy="256" r="1.5" fill="#ff1a1a"/>
<circle cx="154.4" cy="257.5" r="1.5" fill="#ff1a1a"/>
<circle cx="154.4" cy="259" r="1.5" fill="#ff1a1a"/>
<circle cx="154.4" cy="261" r="1.5" fill="#ff1a1a"/>
<circle cx="154.4" cy="263" r="1.5" fill="#ff1a1a"/>
<circle cx="154.4" cy="265" r="1.5" fill="#ff1a1a"/>
<circle cx="154.4" cy="268" r="1.5" fill="#ff1a1a"/>
<circle cx="154.4" cy="271" r="1.5" fill="#ff1a1a"/>
<circle cx="154.4" cy="275" r="1.5" fill="#ff1a1a"/>
<circle cx="154.4" cy="279" r="1.5" fill="#ff1a1a"/>
<circle cx="154.4" cy="283" r="1.5" fill="#ff1a1a"/>
<circle cx="154.4" cy="287" r="1.5" fill="#ff1a1a"/>
<circle cx="154.4" cy="351" r="1.5" fill="#ff1a1a"/>
<circle cx="154.4" cy="354" r="1.5" fill="#ff1a1a"/>
<circle cx="154.4" cy="358" r="1.5" fill="#ff1a1a"/>
<circle cx="154.4" cy="362" r="1.5" fill="#ff1a1a"/>
<circle cx="154.4" cy="366" r="1.5" fill="#ff1a1a"/>
<circle cx="154.4" cy="371" r="1.5" fill="#ff1a1a"/>
<polyline points="203.01,253 203.13,254.96 203.28,256.91 203.46,258.87 203.69,260.83 203.96,262.78 204.28,264.74 204.65,266.7 205.09,268.65 205.59,270.61 206.16,272.57 206.79,274.52 207.48,276.48 208.24,278.44 209.06,280.39 209.92,282.35 210.82,284.31 211.74,286.26 212.67,288.22 213.59,290.18 214.47,292.13 215.31,294.09 216.07,296.05 216.74,298 217.31,299.96 217.75,301.92 218.06,303.87 218.22,305.83 218.24,307.79 218.1,309.74 217.82,311.7 217.41,313.66 216.86,315.61 216.21,317.57 215.46,319.53 214.64,321.48 213.76,323.44 212.85,325.4 211.92,327.35 211,329.31 210.1,331.27 209.23,333.22 208.4,335.18 207.63,337.14 206.92,339.09 206.27,341.05 205.7,343.01 205.18,344.96 204.73,346.92 204.35,348.88 204.02,350.83 203.74,352.79 203.51,354.75 203.31,356.7 203.16,358.66 203.03,360.62 202.93,362.57 202.85,364.53 202.79,366.49 202.74,368.44 202.7,370.4" fill="none" stroke="#ff1a1a" stroke-width="1.7"/>
<circle cx="202.6" cy="253" r="1.5" fill="#ff1a1a"/>
<circle cx="202.6" cy="255" r="1.5" fill="#ff1a1a"/>
<circle cx="202.6" cy="257" r="1.5" fill="#ff1a1a"/>
<circle cx="202.6" cy="259" r="1.5" fill="#ff1a1a"/>
<circle cx="202.6" cy="261" r="1.5" fill="#ff1a1a"/>
<circle cx="202.6" cy="263" r="1.5" fill="#ff1a1a"/>
<circle cx="202.6" cy="265" r="1.5" fill="#ff1a1a"/>
<circle cx="202.6" cy="359" r="1.5" fill="#ff1a1a"/>
<polyline points="251.11,275.3 251.18,276.72 251.28,278.14 251.4,279.56 251.54,280.98 251.7,282.4 251.9,283.82 252.13,285.24 252.39,286.66 252.7,288.08 253.05,289.5 253.44,290.92 253.88,292.34 254.37,293.76 254.9,295.18 255.49,296.6 256.12,298.02 256.79,299.44 257.5,300.86 258.25,302.28 259.02,303.7 259.8,305.12 260.59,306.54 261.38,307.96 262.15,309.38 262.9,310.8 263.6,312.22 264.25,313.64 264.83,315.06 265.34,316.48 265.76,317.9 266.09,319.32 266.31,320.74 266.43,322.16 266.44,323.58 266.34,325 266.14,326.42 265.83,327.84 265.42,329.26 264.93,330.68 264.36,332.1 263.72,333.52 263.03,334.94 262.29,336.36 261.52,337.78 260.74,339.2 259.95,340.62 259.16,342.04 258.39,343.46 257.64,344.88 256.92,346.3 256.24,347.72 255.6,349.14 255.01,350.56 254.46,351.98 253.96,353.4 253.51,354.82 253.11,356.24 252.76,357.66 252.45,359.08 252.17,360.5" fill="none" stroke="#ff1a1a" stroke-width="1.7"/>
<circle cx="250.8" cy="262.2" r="1.5" fill="#ff1a1a"/>
<circle cx="250.8" cy="277" r="1.5" fill="#ff1a1a"/>
<circle cx="250.8" cy="281" r="1.5" fill="#ff1a1a"/>
<circle cx="250.8" cy="284" r="1.5" fill="#ff1a1a"/>
<circle cx="250.8" cy="286" r="1.5" fill="#ff1a1a"/>
<circle cx="250.8" cy="288" r="1.5" fill="#ff1a1a"/>
<circle cx="250.8" cy="290" r="1.5" fill="#ff1a1a"/>
<circle cx="250.8" cy="292" r="1.5" fill="#ff1a1a"/>
<circle cx="250.8" cy="354" r="1.5" fill="#ff1a1a"/>
<circle cx="250.8" cy="359" r="1.5" fill="#ff1a1a"/>
<line x1="32.9" y1="210.4" x2="32.9" y2="387.8" stroke="#585858" stroke-width="1.3"/>
<line x1="32.3" y1="387.2" x2="274.3" y2="387.2" stroke="#585858" stroke-width="1.3"/>
<line x1="31.3" y1="387.2" x2="32.9" y2="387.2" stroke="#585858" stroke-width="1"/>
<line x1="29.3" y1="376.8" x2="32.9" y2="376.8" stroke="#585858" stroke-width="1"/>
<line x1="31.3" y1="366.4" x2="32.9" y2="366.4" stroke="#585858" stroke-width="1"/>
<line x1="29.3" y1="356" x2="32.9" y2="356" stroke="#585858" stroke-width="1"/>
<line x1="31.3" y1="345.6" x2="32.9" y2="345.6" stroke="#585858" stroke-width="1"/>
<line x1="29.3" y1="335.2" x2="32.9" y2="335.2" stroke="#585858" stroke-width="1"/>
<line x1="31.3" y1="324.8" x2="32.9" y2="324.8" stroke="#585858" stroke-width="1"/>
<line x1="29.3" y1="314.4" x2="32.9" y2="314.4" stroke="#585858" stroke-width="1"/>
<line x1="31.3" y1="304" x2="32.9" y2="304" stroke="#585858" stroke-width="1"/>
<line x1="29.3" y1="293.6" x2="32.9" y2="293.6" stroke="#585858" stroke-width="1"/>
<line x1="31.3" y1="283.2" x2="32.9" y2="283.2" stroke="#585858" stroke-width="1"/>
<line x1="29.3" y1="272.8" x2="32.9" y2="272.8" stroke="#585858" stroke-width="1"/>
<line x1="31.3" y1="262.4" x2="32.9" y2="262.4" stroke="#585858" stroke-width="1"/>
<line x1="29.3" y1="252" x2="32.9" y2="252" stroke="#585858" stroke-width="1"/>
<line x1="31.3" y1="241.6" x2="32.9" y2="241.6" stroke="#585858" stroke-width="1"/>
<line x1="29.3" y1="231.2" x2="32.9" y2="231.2" stroke="#585858" stroke-width="1"/>
<line x1="31.3" y1="220.8" x2="32.9" y2="220.8" stroke="#585858" stroke-width="1"/>
<line x1="29.3" y1="210.4" x2="32.9" y2="210.4" stroke="#585858" stroke-width="1"/>
<text x="26.5" y="213.3" text-anchor="end" class="tk">10</text>
<text x="26.5" y="234.1" text-anchor="end" class="tk">8</text>
<text x="26.5" y="254.9" text-anchor="end" class="tk">6</text>
<text x="26.5" y="275.7" text-anchor="end" class="tk">4</text>
<text x="26.5" y="296.5" text-anchor="end" class="tk">2</text>
<text x="26.5" y="317.3" text-anchor="end" class="tk">0</text>
<text x="26.5" y="338.1" text-anchor="end" class="tk">-2</text>
<text x="26.5" y="358.9" text-anchor="end" class="tk">-4</text>
<text x="26.5" y="379.7" text-anchor="end" class="tk">-6</text>
<line x1="58.1" y1="387.2" x2="58.1" y2="390.4" stroke="#585858" stroke-width="0.8"/>
<text x="58.1" y="399.9" text-anchor="middle" class="xl">RF</text>
<line x1="106.2" y1="387.2" x2="106.2" y2="390.4" stroke="#585858" stroke-width="0.8"/>
<text x="106.2" y="399.9" text-anchor="middle" class="xl">AdaBoost</text>
<line x1="154.4" y1="387.2" x2="154.4" y2="390.4" stroke="#585858" stroke-width="0.8"/>
<text x="154.4" y="399.9" text-anchor="middle" class="xl">SVM</text>
<line x1="202.6" y1="387.2" x2="202.6" y2="390.4" stroke="#585858" stroke-width="0.8"/>
<text x="202.6" y="399.9" text-anchor="middle" class="xl">kNN</text>
<line x1="250.8" y1="387.2" x2="250.8" y2="390.4" stroke="#585858" stroke-width="0.8"/>
<text x="250.8" y="399.9" text-anchor="middle" class="xl">ANN</text>
<text transform="translate(14.2,298.8) rotate(-90)" text-anchor="middle" class="yl">Error</text>
<rect x="42.1" y="210.6" width="93.4" height="48.3" fill="#ffffff" stroke="#c8c8c8" stroke-width="0.8"/>
<rect x="43.6" y="212.3" width="16.0" height="7.6" fill="#4a9b9b" stroke="#1c1c1c" stroke-width="1.3"/>
<text x="61.7" y="218.4" class="lg">25%~75%</text>
<text x="61.7" y="228.1" class="lg">Range within 1.5IQR</text>
<text x="61.7" y="237.7" class="lg">Median Line</text>
<text x="61.7" y="247.3" class="lg">Mean</text>
<text x="61.7" y="256.8" class="lg">Outliers</text>
<line x1="51.5" y1="221.8" x2="51.5" y2="229" stroke="#1c1c1c" stroke-width="1.3"/>
<line x1="48.8" y1="221.8" x2="54.2" y2="221.8" stroke="#1c1c1c" stroke-width="1.3"/>
<line x1="48.8" y1="229" x2="54.2" y2="229" stroke="#1c1c1c" stroke-width="1.5"/>
<line x1="46.1" y1="235" x2="56.9" y2="235" stroke="#1c1c1c" stroke-width="1.5"/>
<circle cx="51.5" cy="244.6" r="1.1" fill="#d6d6d6"/>
<circle cx="51.5" cy="254.1" r="1.2" fill="#ff1a1a"/>
<text x="240.9" y="235.3" class="tag">(c)</text>
<line x1="328.8" y1="267.6" x2="328.8" y2="291.5" stroke="#1c1c1c" stroke-width="1.5"/>
<line x1="328.8" y1="321.2" x2="328.8" y2="362.8" stroke="#1c1c1c" stroke-width="1.5"/>
<line x1="320.4" y1="267.6" x2="337.2" y2="267.6" stroke="#1c1c1c" stroke-width="1.4"/>
<line x1="320.4" y1="362.8" x2="337.2" y2="362.8" stroke="#1c1c1c" stroke-width="1.4"/>
<rect x="313.6" y="291.7" width="30.4" height="29.3" fill="#4a9b9b" stroke="#1c1c1c" stroke-width="1.7"/>
<circle cx="328.8" cy="307" r="1" fill="#468e8e"/>
<line x1="313.6" y1="310.8" x2="344" y2="310.8" stroke="#1c1c1c" stroke-width="1.8"/>
<line x1="376.9" y1="270" x2="376.9" y2="293.5" stroke="#1c1c1c" stroke-width="1.5"/>
<line x1="376.9" y1="322.4" x2="376.9" y2="351.8" stroke="#1c1c1c" stroke-width="1.5"/>
<line x1="368.5" y1="270" x2="385.3" y2="270" stroke="#1c1c1c" stroke-width="1.4"/>
<line x1="368.5" y1="351.8" x2="385.3" y2="351.8" stroke="#1c1c1c" stroke-width="1.4"/>
<rect x="361.7" y="293.7" width="30.4" height="28.5" fill="#4a9b9b" stroke="#1c1c1c" stroke-width="1.7"/>
<circle cx="376.9" cy="308" r="1" fill="#468e8e"/>
<line x1="361.7" y1="310" x2="392.1" y2="310" stroke="#1c1c1c" stroke-width="1.8"/>
<line x1="425.1" y1="248" x2="425.1" y2="278.5" stroke="#1c1c1c" stroke-width="1.5"/>
<line x1="425.1" y1="311.9" x2="425.1" y2="336.3" stroke="#1c1c1c" stroke-width="1.5"/>
<line x1="416.7" y1="248" x2="433.5" y2="248" stroke="#1c1c1c" stroke-width="1.4"/>
<line x1="416.7" y1="336.3" x2="433.5" y2="336.3" stroke="#1c1c1c" stroke-width="1.4"/>
<rect x="409.9" y="278.7" width="30.4" height="33" fill="#4a9b9b" stroke="#1c1c1c" stroke-width="1.7"/>
<circle cx="425.1" cy="294.5" r="1" fill="#468e8e"/>
<line x1="409.9" y1="294.3" x2="440.3" y2="294.3" stroke="#1c1c1c" stroke-width="1.8"/>
<line x1="473.2" y1="235.9" x2="473.2" y2="282.6" stroke="#1c1c1c" stroke-width="1.5"/>
<line x1="473.2" y1="320.5" x2="473.2" y2="365.5" stroke="#1c1c1c" stroke-width="1.5"/>
<line x1="464.8" y1="235.9" x2="481.6" y2="235.9" stroke="#1c1c1c" stroke-width="1.4"/>
<line x1="464.8" y1="365.5" x2="481.6" y2="365.5" stroke="#1c1c1c" stroke-width="1.4"/>
<rect x="458" y="282.8" width="30.4" height="37.5" fill="#4a9b9b" stroke="#1c1c1c" stroke-width="1.7"/>
<circle cx="473.2" cy="300" r="1" fill="#468e8e"/>
<line x1="458" y1="304.8" x2="488.4" y2="304.8" stroke="#1c1c1c" stroke-width="1.8"/>
<line x1="521.4" y1="251.1" x2="521.4" y2="280.7" stroke="#1c1c1c" stroke-width="1.5"/>
<line x1="521.4" y1="311.3" x2="521.4" y2="338.3" stroke="#1c1c1c" stroke-width="1.5"/>
<line x1="513" y1="251.1" x2="529.8" y2="251.1" stroke="#1c1c1c" stroke-width="1.4"/>
<line x1="513" y1="338.3" x2="529.8" y2="338.3" stroke="#1c1c1c" stroke-width="1.4"/>
<rect x="506.2" y="280.9" width="30.4" height="30.2" fill="#4a9b9b" stroke="#1c1c1c" stroke-width="1.7"/>
<circle cx="521.4" cy="295" r="1" fill="#468e8e"/>
<line x1="506.2" y1="294.4" x2="536.6" y2="294.4" stroke="#1c1c1c" stroke-width="1.8"/>
<polyline points="328.87,228.2 328.9,230.7 328.94,233.19 328.99,235.69 329.06,238.19 329.14,240.68 329.26,243.18 329.4,245.68 329.58,248.17 329.8,250.67 330.06,253.17 330.39,255.66 330.77,258.16 331.23,260.66 331.75,263.15 332.35,265.65 333.02,268.15 333.77,270.64 334.58,273.14 335.46,275.64 336.39,278.13 337.36,280.63 338.34,283.13 339.33,285.62 340.29,288.12 341.2,290.62 342.04,293.11 342.78,295.61 343.41,298.11 343.9,300.6 344.24,303.1 344.42,305.6 344.43,308.09 344.28,310.59 343.95,313.09 343.48,315.58 342.87,318.08 342.14,320.58 341.31,323.07 340.4,325.57 339.45,328.07 338.46,330.56 337.48,333.06 336.51,335.56 335.58,338.05 334.69,340.55 333.87,343.05 333.11,345.54 332.43,348.04 331.82,350.54 331.29,353.03 330.83,355.53 330.43,358.03 330.1,360.52 329.83,363.02 329.6,365.52 329.42,368.01 329.27,370.51 329.16,373.01 329.07,375.5 329,378" fill="none" stroke="#ff1a1a" stroke-width="1.7"/>
<polyline points="376.94,228.2 376.96,230.69 376.98,233.19 377.01,235.68 377.06,238.17 377.12,240.67 377.19,243.16 377.3,245.65 377.43,248.15 377.6,250.64 377.81,253.13 378.07,255.63 378.39,258.12 378.77,260.61 379.23,263.11 379.76,265.6 380.37,268.09 381.07,270.59 381.84,273.08 382.69,275.57 383.61,278.07 384.58,280.56 385.59,283.05 386.62,285.55 387.64,288.04 388.63,290.53 389.56,293.03 390.41,295.52 391.14,298.01 391.74,300.51 392.18,303 392.46,305.49 392.55,307.99 392.46,310.48 392.19,312.97 391.75,315.47 391.15,317.96 390.42,320.45 389.57,322.95 388.64,325.44 387.65,327.93 386.63,330.43 385.6,332.92 384.59,335.41 383.62,337.91 382.7,340.4 381.85,342.89 381.08,345.39 380.38,347.88 379.77,350.37 379.23,352.87 378.78,355.36 378.39,357.85 378.07,360.35 377.81,362.84 377.6,365.33 377.43,367.83 377.3,370.32 377.2,372.81 377.12,375.31 377.06,377.8" fill="none" stroke="#ff1a1a" stroke-width="1.7"/>
<circle cx="376.9" cy="375.6" r="1.5" fill="#ff1a1a"/>
<polyline points="425.35,228.2 425.43,230.67 425.55,233.14 425.69,235.61 425.87,238.08 426.1,240.55 426.38,243.02 426.72,245.49 427.12,247.96 427.6,250.43 428.15,252.9 428.78,255.37 429.49,257.84 430.28,260.31 431.15,262.78 432.07,265.25 433.05,267.72 434.05,270.19 435.07,272.66 436.08,275.13 437.05,277.6 437.95,280.07 438.77,282.54 439.47,285.01 440.04,287.48 440.45,289.95 440.69,292.42 440.75,294.89 440.63,297.36 440.34,299.83 439.88,302.3 439.27,304.77 438.52,307.24 437.68,309.71 436.75,312.18 435.76,314.65 434.75,317.12 433.73,319.59 432.73,322.06 431.77,324.53 430.87,327 430.03,329.47 429.26,331.94 428.57,334.41 427.97,336.88 427.44,339.35 426.99,341.82 426.6,344.29 426.28,346.76 426.02,349.23 425.81,351.7 425.64,354.17 425.51,356.64 425.4,359.11 425.32,361.58 425.26,364.05 425.22,366.52 425.18,368.99 425.16,371.46 425.14,373.93 425.13,376.4" fill="none" stroke="#ff1a1a" stroke-width="1.7"/>
<circle cx="425.1" cy="366.8" r="1.5" fill="#ff1a1a"/>
<polyline points="473.78,228.2 473.93,230.69 474.11,233.18 474.32,235.67 474.57,238.17 474.86,240.66 475.19,243.15 475.58,245.64 476.01,248.13 476.51,250.62 477.05,253.12 477.65,255.61 478.31,258.1 479.01,260.59 479.76,263.08 480.55,265.57 481.37,268.07 482.2,270.56 483.05,273.05 483.89,275.54 484.7,278.03 485.49,280.52 486.22,283.02 486.89,285.51 487.48,288 487.97,290.49 488.37,292.98 488.65,295.48 488.81,297.97 488.85,300.46 488.76,302.95 488.56,305.44 488.23,307.93 487.8,310.42 487.27,312.92 486.65,315.41 485.96,317.9 485.2,320.39 484.41,322.88 483.58,325.38 482.74,327.87 481.89,330.36 481.06,332.85 480.26,335.34 479.48,337.83 478.75,340.32 478.06,342.82 477.43,345.31 476.84,347.8 476.32,350.29 475.85,352.78 475.43,355.27 475.06,357.77 474.74,360.26 474.47,362.75 474.24,365.24 474.04,367.73 473.87,370.23 473.74,372.72 473.62,375.21 473.53,377.7" fill="none" stroke="#ff1a1a" stroke-width="1.7"/>
<polyline points="521.63,228.2 521.71,230.58 521.81,232.96 521.94,235.33 522.1,237.71 522.31,240.09 522.55,242.47 522.85,244.85 523.21,247.23 523.63,249.6 524.12,251.98 524.69,254.36 525.32,256.74 526.03,259.12 526.82,261.5 527.66,263.88 528.57,266.25 529.51,268.63 530.48,271.01 531.46,273.39 532.43,275.77 533.36,278.14 534.24,280.52 535.03,282.9 535.71,285.28 536.27,287.66 536.69,290.04 536.95,292.41 537.05,294.79 536.98,297.17 536.75,299.55 536.36,301.93 535.82,304.31 535.16,306.68 534.38,309.06 533.52,311.44 532.6,313.82 531.63,316.2 530.65,318.58 529.68,320.95 528.73,323.33 527.82,325.71 526.96,328.09 526.17,330.47 525.44,332.85 524.79,335.22 524.21,337.6 523.71,339.98 523.28,342.36 522.91,344.74 522.6,347.12 522.35,349.5 522.14,351.87 521.97,354.25 521.83,356.63 521.73,359.01 521.64,361.39 521.58,363.76 521.53,366.14 521.49,368.52 521.47,370.9" fill="none" stroke="#ff1a1a" stroke-width="1.7"/>
<circle cx="521.4" cy="358.6" r="1.5" fill="#ff1a1a"/>
<line x1="304.1" y1="209.9" x2="304.1" y2="387.4" stroke="#585858" stroke-width="1.3"/>
<line x1="303.5" y1="386.8" x2="545.5" y2="386.8" stroke="#585858" stroke-width="1.3"/>
<line x1="302.5" y1="386.8" x2="304.1" y2="386.8" stroke="#585858" stroke-width="1"/>
<line x1="300.5" y1="377.49" x2="304.1" y2="377.49" stroke="#585858" stroke-width="1"/>
<line x1="302.5" y1="368.18" x2="304.1" y2="368.18" stroke="#585858" stroke-width="1"/>
<line x1="300.5" y1="358.87" x2="304.1" y2="358.87" stroke="#585858" stroke-width="1"/>
<line x1="302.5" y1="349.56" x2="304.1" y2="349.56" stroke="#585858" stroke-width="1"/>
<line x1="300.5" y1="340.25" x2="304.1" y2="340.25" stroke="#585858" stroke-width="1"/>
<line x1="302.5" y1="330.94" x2="304.1" y2="330.94" stroke="#585858" stroke-width="1"/>
<line x1="300.5" y1="321.63" x2="304.1" y2="321.63" stroke="#585858" stroke-width="1"/>
<line x1="302.5" y1="312.32" x2="304.1" y2="312.32" stroke="#585858" stroke-width="1"/>
<line x1="300.5" y1="303.01" x2="304.1" y2="303.01" stroke="#585858" stroke-width="1"/>
<line x1="302.5" y1="293.69" x2="304.1" y2="293.69" stroke="#585858" stroke-width="1"/>
<line x1="300.5" y1="284.38" x2="304.1" y2="284.38" stroke="#585858" stroke-width="1"/>
<line x1="302.5" y1="275.07" x2="304.1" y2="275.07" stroke="#585858" stroke-width="1"/>
<line x1="300.5" y1="265.76" x2="304.1" y2="265.76" stroke="#585858" stroke-width="1"/>
<line x1="302.5" y1="256.45" x2="304.1" y2="256.45" stroke="#585858" stroke-width="1"/>
<line x1="300.5" y1="247.14" x2="304.1" y2="247.14" stroke="#585858" stroke-width="1"/>
<line x1="302.5" y1="237.83" x2="304.1" y2="237.83" stroke="#585858" stroke-width="1"/>
<line x1="300.5" y1="228.52" x2="304.1" y2="228.52" stroke="#585858" stroke-width="1"/>
<line x1="302.5" y1="219.21" x2="304.1" y2="219.21" stroke="#585858" stroke-width="1"/>
<line x1="300.5" y1="209.9" x2="304.1" y2="209.9" stroke="#585858" stroke-width="1"/>
<text x="297.7" y="212.8" text-anchor="end" class="tk">10</text>
<text x="297.7" y="231.42" text-anchor="end" class="tk">8</text>
<text x="297.7" y="250.04" text-anchor="end" class="tk">6</text>
<text x="297.7" y="268.66" text-anchor="end" class="tk">4</text>
<text x="297.7" y="287.28" text-anchor="end" class="tk">2</text>
<text x="297.7" y="305.91" text-anchor="end" class="tk">0</text>
<text x="297.7" y="324.53" text-anchor="end" class="tk">-2</text>
<text x="297.7" y="343.15" text-anchor="end" class="tk">-4</text>
<text x="297.7" y="361.77" text-anchor="end" class="tk">-6</text>
<text x="297.7" y="380.39" text-anchor="end" class="tk">-8</text>
<line x1="328.8" y1="386.8" x2="328.8" y2="390" stroke="#585858" stroke-width="0.8"/>
<text x="328.8" y="399.5" text-anchor="middle" class="xl">RF</text>
<line x1="376.9" y1="386.8" x2="376.9" y2="390" stroke="#585858" stroke-width="0.8"/>
<text x="376.9" y="399.5" text-anchor="middle" class="xl">AdaBoost</text>
<line x1="425.1" y1="386.8" x2="425.1" y2="390" stroke="#585858" stroke-width="0.8"/>
<text x="425.1" y="399.5" text-anchor="middle" class="xl">SVM</text>
<line x1="473.2" y1="386.8" x2="473.2" y2="390" stroke="#585858" stroke-width="0.8"/>
<text x="473.2" y="399.5" text-anchor="middle" class="xl">kNN</text>
<line x1="521.4" y1="386.8" x2="521.4" y2="390" stroke="#585858" stroke-width="0.8"/>
<text x="521.4" y="399.5" text-anchor="middle" class="xl">ANN</text>
<text transform="translate(285.4,298.35) rotate(-90)" text-anchor="middle" class="yl">Error</text>
<rect x="309.2" y="210.2" width="92.9" height="49.2" fill="#ffffff" stroke="#c8c8c8" stroke-width="0.8"/>
<rect x="310.7" y="211.9" width="16.0" height="7.6" fill="#4a9b9b" stroke="#1c1c1c" stroke-width="1.3"/>
<text x="328.8" y="218" class="lg">25%~75%</text>
<text x="328.8" y="227.7" class="lg">Range within 1.5IQR</text>
<text x="328.8" y="237.3" class="lg">Median Line</text>
<text x="328.8" y="246.9" class="lg">Mean</text>
<text x="328.8" y="256.4" class="lg">Outliers</text>
<line x1="318.6" y1="221.4" x2="318.6" y2="228.6" stroke="#1c1c1c" stroke-width="1.3"/>
<line x1="315.9" y1="221.4" x2="321.3" y2="221.4" stroke="#1c1c1c" stroke-width="1.3"/>
<line x1="315.9" y1="228.6" x2="321.3" y2="228.6" stroke="#1c1c1c" stroke-width="1.5"/>
<line x1="313.2" y1="234.6" x2="324" y2="234.6" stroke="#1c1c1c" stroke-width="1.5"/>
<circle cx="318.6" cy="244.2" r="1.1" fill="#d6d6d6"/>
<circle cx="318.6" cy="253.7" r="1.2" fill="#ff1a1a"/>
<text x="509.9" y="223.6" class="tag">(d)</text>
</svg>
</body></html>
